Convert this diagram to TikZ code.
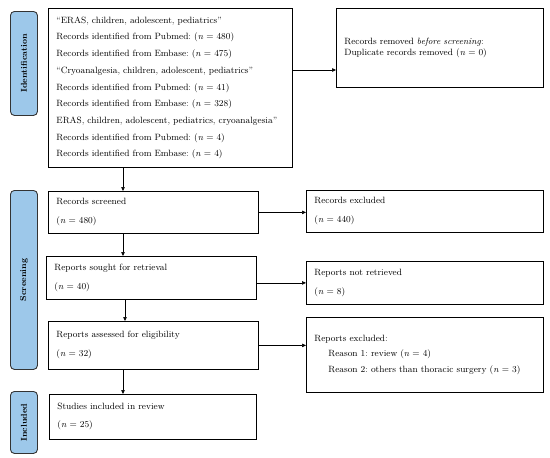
\documentclass[tikz,border=0pt]{standalone}
\usetikzlibrary{arrows.meta}
\definecolor{tabblue}{HTML}{9DC8EA}
\frenchspacing
\begin{document}
\begin{tikzpicture}[x=1pt,y=-1pt,
  box/.style={draw, line width=0.8pt, anchor=north west, inner xsep=8pt, inner ysep=0pt,
    align=left, text width=#1, font=\fontsize{9.1}{11.5}\selectfont},
  tab/.style={draw=black!80, line width=0.9pt, fill=tabblue, rounded corners=4pt,
    anchor=north west, inner sep=0pt, minimum width=27pt},
  tabtext/.style={rotate=90, font=\bfseries\fontsize{8.5}{10}\selectfont},
  arr/.style={-{Triangle[length=4pt,width=3.5pt]}, line width=0.6pt}]
\useasboundingbox (0,0) rectangle (550,458);
% tabs
\node[tab, minimum height=104pt] (t1) at (10,11) {};
\node[tabtext] at (t1.center) {Identification};
\node[tab, minimum height=179pt] (t2) at (10,190) {};
\node[tabtext] at (t2.center) {Screening};
\node[tab, minimum height=62pt] (t3) at (10,391) {};
\node[tabtext] at (t3.center) {Included};
% boxes
\node[box=228pt, minimum height=159pt] (main) at (48,8) {%
``ERAS, children, adolescent, pediatrics''\\[5.2pt]
Records identified from Pubmed: (\textit{n} = 480)\\[5.2pt]
Records identified from Embase: (\textit{n} = 475)\\[5.2pt]
``Cryoanalgesia, children, adolescent, pediatrics''\\[5.2pt]
Records identified from Pubmed: (\textit{n} = 41)\\[5.2pt]
Records identified from Embase: (\textit{n} = 328)\\[5.2pt]
\mbox{ERAS, children, adolescent, pediatrics, cryoanalgesia''}\\[5.2pt]
Records identified from Pubmed: (\textit{n} = 4)\\[5.2pt]
Records identified from Embase: (\textit{n} = 4)};
\node[box=191pt, minimum height=79pt] (removed) at (336,8) {%
Records removed \textit{before screening}:\\[0.2pt]
Duplicate records removed (\textit{n} = 0)};
\node[box=194pt, minimum height=42pt] (screened) at (48,191) {%
Records screened\\[7.5pt]
(\textit{n} = 480)};
\node[box=221pt, minimum height=42pt] (rexcl) at (306,190) {%
Records excluded\\[7.5pt]
(\textit{n} = 440)};
\node[box=194pt, minimum height=43pt] (sought) at (46,256) {%
Reports sought for retrieval\\[7.5pt]
(\textit{n} = 40)};
\node[box=221pt, minimum height=43pt] (notret) at (306,261) {%
Reports not retrieved\\[7.5pt]
(\textit{n} = 8)};
\node[box=194pt, minimum height=48pt] (assessed) at (48,321) {%
Reports assessed for eligibility\\[7.5pt]
(\textit{n} = 32)};
\node[box=221pt, minimum height=75pt] (excl) at (306,317) {%
Reports excluded:\\[4pt]
\hspace*{14pt}Reason 1: review (\textit{n} = 4)\\[4pt]
\hspace*{14pt}Reason 2: others than thoracic surgery (\textit{n} = 3)};
\node[box=191pt, minimum height=45pt] (included) at (49,394) {%
Studies included in review\\[6.5pt]
(\textit{n} = 25)};
% connectors
\coordinate (ya) at (0,70);
\coordinate (vx) at (123,0);
\coordinate (vy) at (125,0);
\draw[arr] (main.east |- ya) -- (removed.west |- ya);
\draw[arr] (main.south -| vx) -- (screened.north -| vx);
\draw[arr] (screened.east) -- (screened.east -| rexcl.west);
\draw[arr] (screened.south -| vx) -- (sought.north -| vx);
\draw[arr] (notret.west -| sought.east) -- (notret.west);
\draw[arr] (sought.south -| vy) -- (assessed.north -| vy);
\draw[arr] (assessed.east) -- (assessed.east -| excl.west);
\draw[arr] (assessed.south -| vx) -- (included.north -| vx);
\end{tikzpicture}
\end{document}
